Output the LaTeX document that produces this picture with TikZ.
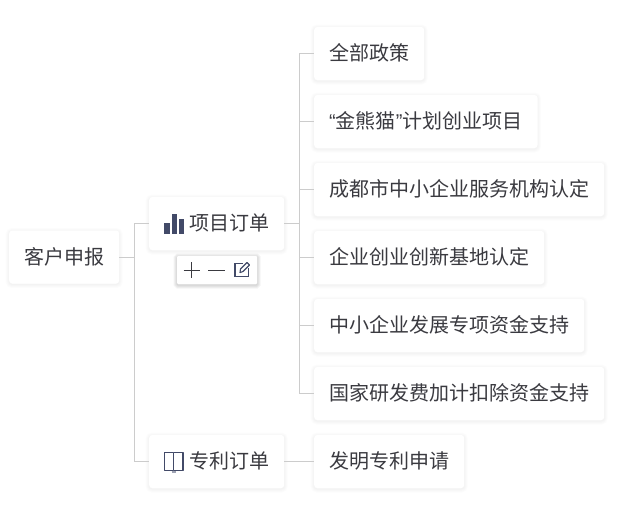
\documentclass[tikz,border=0pt]{standalone}
\usepackage{fontspec}
\setmainfont{Noto Sans CJK SC}
\newfontfamily\quotefont{Liberation Sans}
\usetikzlibrary{calc}
\definecolor{inkmap}{RGB}{58, 58, 64}
\definecolor{iconmap}{RGB}{66, 74, 104}
\definecolor{linkmap}{RGB}{204, 204, 204}
\tikzset{
  softedge/.style={preaction={draw=black, draw opacity=#1, line width=1pt, transform canvas={yshift=-1pt}},
    preaction={draw=black, draw opacity=#1, line width=3pt, transform canvas={yshift=-1pt}},
    preaction={draw=black, draw opacity=#1, line width=5pt, transform canvas={yshift=-1pt}},
    preaction={draw=black, draw opacity=#1, line width=7pt, transform canvas={yshift=-1pt}}},
  mapbox/.style={rounded corners=3pt, fill=white, text=inkmap, font=\fontsize{20}{24}\selectfont, inner xsep=15pt, inner ysep=0pt, minimum height=53pt, text height=17pt, text depth=3pt, anchor=west, softedge=.012},
  link/.style={draw=linkmap, line width=1pt},
}

\begin{document}
\begin{tikzpicture}[x=1pt,y=-1pt]
  \useasboundingbox (0,0) rectangle (623,504);
  \node[mapbox] (root) at (9,257) {客户申报};
  \node[mapbox] (proj) at (149,223.5) {\hspace{25pt}项目订单};
  \node[mapbox] (patent) at (149,461.5) {\hspace{25pt}专利订单};
  \foreach \n/\y/\t in {1/53.5/全部政策, 2/121.5/{{\quotefont “}金熊猫{\quotefont ”}计划创业项目}, 3/189.5/成都市中小企业服务机构认定, 4/257.5/企业创业创新基地认定, 5/325.5/中小企业发展专项资金支持, 6/393.5/国家研发费加计扣除资金支持, 7/461.5/发明专利申请} { \node[mapbox] (leaf\n) at (314,\y) {\t}; }
  % connectors
  \draw[link] (root.east) -- ++(15,0) |- (proj.west);
  \draw[link] (root.east) -- ++(15,0) |- (patent.west);
  \foreach \n in {1,...,6} { \draw[link] (proj.east) -- ++(15,0) |- (leaf\n.west); }
  \draw[link] (patent.east) -- (leaf7.west);
  % bars and book
  \begin{scope}[shift={(proj.west)}]
    \fill[iconmap] (15,-1) rectangle (21,10.5);
    \fill[iconmap] (22.5,-9.5) rectangle (28,10.5);
    \fill[iconmap] (29.5,-5) rectangle (35,10.5);
  \end{scope}
  \begin{scope}[shift={(patent.west)}]
    \draw[iconmap, line width=1.1pt, line join=round] (15.5,-9) -- (24.5,-9) -- (24.5,9) -- (15.5,9) -- cycle;
    \draw[iconmap, line width=1.1pt, line join=round] (24.5,-9) -- (34,-9) -- (34,9) -- (24.5,9);
    \draw[iconmap!50, line width=1.4pt] (22.5,10.5) -- (26.5,10.5);
  \end{scope}
  % toolbar under the selected node
  \node[mapbox, minimum width=80pt, minimum height=28pt, rounded corners=1pt, inner xsep=0pt, softedge=.03] (tools) at (177,270) {};
  \draw[inkmap, line width=1pt] (183.5,270) -- (200,270) (191.7,262) -- (191.7,278);
  \draw[inkmap, line width=1pt] (208,270) -- (225,270);
  \draw[iconmap, line width=1.1pt] (243,263.5) -- (235,263.5) -- (235,276.5) -- (248.5,276.5) -- (248.5,268);
  \draw[iconmap, line width=1.1pt, line join=round] (240,272.5) -- (240.5,269) -- (247,262.5) -- (249.5,265) -- (243,271.5) -- cycle;
\end{tikzpicture}
\end{document}
